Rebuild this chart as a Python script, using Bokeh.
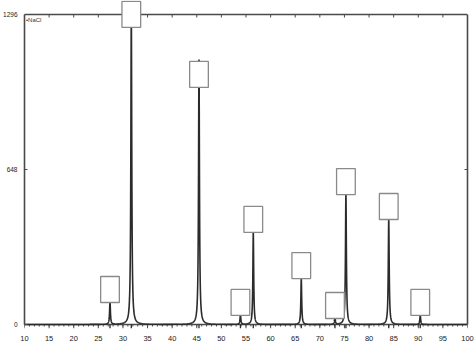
import numpy as np
from bokeh.plotting import figure
from bokeh.models import LinearAxis, FixedTicker, SingleIntervalTicker, Range1d
from bokeh.core.properties import value
from bokeh.embed import file_html
from bokeh.resources import INLINE

# --- data (NaCl powder XRD pattern) ---
peak_2theta = [27.37, 31.70, 45.45, 53.87, 56.48, 66.23, 73.07, 75.30, 84.00, 90.40]
peak_counts = [95, 1296, 1108, 40, 385, 192, 28, 543, 439, 38]
label_box_base = [92, 1242, 991, 38, 385, 192, 25, 543, 439, 38]
peak_hwhm = [0.10, 0.11, 0.11, 0.10, 0.10, 0.10, 0.10, 0.11, 0.11, 0.10]
y_ticks = [0, 648, 1296]
x_min, x_max = 10, 100
y_full = 1296
legend_text = "\u2022NaCl"

# profile built from the peak list
x = np.linspace(x_min, x_max, 18001)
y = np.zeros_like(x)
for pos, h, g in zip(peak_2theta, peak_counts, peak_hwhm):
    y += h * g**2 / (g**2 + (x - pos) ** 2)
y = np.minimum(y, y_full)

FONT = "Liberation Sans"
AX = "#4a4a4a"
px = y_full / 310.0          # counts per screen pixel

p = figure(width=474, height=343, x_range=Range1d(x_min, x_max),
           y_range=Range1d(-4 * px, y_full + 14 * px),
           output_backend="svg", toolbar_location=None, title=None,
           min_border_left=21, min_border_right=7, min_border_top=0,
           min_border_bottom=15)
p.outline_line_color = None
p.xgrid.visible = False
p.ygrid.visible = False
p.background_fill_color = "white"
p.border_fill_color = "white"

# bottom axis: labels only (line and ticks drawn at the baseline below)
xa = p.xaxis[0]
xa.ticker = SingleIntervalTicker(interval=5, num_minor_ticks=5)
xa.axis_line_color = None
xa.major_tick_line_color = None
xa.minor_tick_line_color = None
xa.major_label_text_font = FONT
xa.major_label_text_font_size = "7.5px"
xa.major_label_text_color = "#222222"
xa.major_label_standoff = 1

# left axis
ya = p.yaxis[0]
ya.ticker = FixedTicker(ticks=y_ticks)
ya.bounds = (0, y_full)
ya.axis_line_color = AX
ya.axis_line_width = 1.6
ya.major_tick_line_color = AX
ya.major_tick_in = 3
ya.major_tick_out = 0
ya.minor_tick_line_color = None
ya.major_label_text_font = FONT
ya.major_label_text_font_size = "6.5px"
ya.major_label_text_color = "#222222"
ya.major_label_standoff = 7

# right axis (frame side)
ra = LinearAxis(ticker=FixedTicker(ticks=[y_ticks[1]]), bounds=(0, y_full),
                axis_line_color=AX, axis_line_width=1.6,
                major_tick_line_color=AX, major_tick_in=3, major_tick_out=0,
                minor_tick_line_color=None, major_label_text_font_size="1px",
                major_label_text_color=None, major_label_standoff=0)
p.add_layout(ra, "right")

# top frame line with inward ticks
p.segment(x0=[x_min], y0=[y_full], x1=[x_max], y1=[y_full],
          line_color=AX, line_width=1.6)
top_ticks = list(range(x_min + 5, x_max, 5))
p.segment(x0=top_ticks, y0=[y_full] * len(top_ticks), x1=top_ticks,
          y1=[y_full - 3 * px] * len(top_ticks), line_color=AX, line_width=1)

# baseline axis with hanging ticks
minor = list(range(x_min, x_max + 1, 1))
major = list(range(x_min, x_max + 1, 5))
p.segment(x0=minor, y0=[0] * len(minor), x1=minor, y1=[-2 * px] * len(minor),
          line_color=AX, line_width=1)
p.segment(x0=major, y0=[0] * len(major), x1=major, y1=[-4 * px] * len(major),
          line_color=AX, line_width=1)
p.segment(x0=[x_min], y0=[0], x1=[x_max], y1=[0], line_color=AX, line_width=1.6)

# reference markers below baseline
p.segment(x0=peak_2theta, y0=[0] * len(peak_2theta), x1=peak_2theta,
          y1=[-4 * px] * len(peak_2theta), line_color="#2b2b2b", line_width=1.3)

# pattern
p.line(x, y, line_color="#2b2b2b", line_width=1.6)

# empty label boxes above peaks
box_w = 1.9
box_h = 26 * px
p.quad(left=[v - box_w for v in peak_2theta], right=[v + box_w for v in peak_2theta],
       bottom=label_box_base, top=[b + box_h for b in label_box_base],
       fill_color="white", line_color="#8a8a8a", line_width=1.3)

# legend text
p.text(x=[x_min + 0.3], y=[y_full - 2 * px], text=[legend_text], text_font=value(FONT),
       text_font_size="6px", text_baseline="top", text_color="#333333")

open("out.html", "w").write(file_html(p, INLINE))
